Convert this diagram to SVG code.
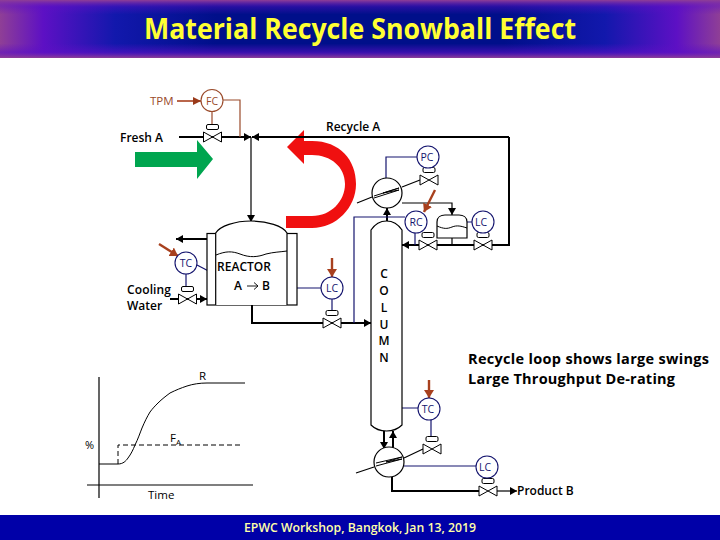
<svg xmlns="http://www.w3.org/2000/svg" width="720" height="540" viewBox="0 0 720 540">
<style>
text{font-family:"Open Sans","Liberation Sans",sans-serif;fill:#000}
.lbl{font-size:11.5px}
.bold{font-size:14.5px;font-weight:700}
.inst{font-size:10.5px;fill:#14146e;text-anchor:middle}
.ctl{fill:#fff;stroke:#14146e;stroke-width:1.1}
.sig{fill:none;stroke:#14146e;stroke-width:1.2}
.fc{fill:#fff;stroke:#9a4a2a;stroke-width:1.1}
.fcs{fill:none;stroke:#9a4a2a;stroke-width:1.2}
.thick{fill:none;stroke:#000;stroke-width:2}
.thin{fill:none;stroke:#000;stroke-width:1.2}
.v{fill:#fff;stroke:#000;stroke-width:1}
.red{fill:none;stroke:#a8401e;stroke-width:2.4;marker-end:url(#rh)}
</style>
<defs>
<marker id="ah" markerUnits="userSpaceOnUse" markerWidth="8" markerHeight="8" refX="7" refY="4" orient="auto"><path d="M0 0L7 4L0 8z" fill="#000"/></marker>
<marker id="rh" markerUnits="userSpaceOnUse" markerWidth="10" markerHeight="10" refX="8" refY="5" orient="auto"><path d="M0 0L8 5L0 10z" fill="#a8401e"/></marker>
<marker id="bh" markerUnits="userSpaceOnUse" markerWidth="10" markerHeight="8" refX="8" refY="4" orient="auto"><path d="M0 0L8 4L0 8z" fill="#9a3a1a"/></marker>
<linearGradient id="hh" x1="0" x2="1" y1="0" y2="0">
<stop offset="0" stop-color="#8f3f96"/><stop offset="0.06" stop-color="#5d10c4"/><stop offset="0.16" stop-color="#1218ac"/><stop offset="0.3" stop-color="#000f8a"/><stop offset="0.7" stop-color="#000f8a"/><stop offset="0.84" stop-color="#1218ac"/><stop offset="0.94" stop-color="#5d10c4"/><stop offset="1" stop-color="#8f3f96"/>
</linearGradient>
<linearGradient id="hv" x1="0" x2="0" y1="0" y2="1">
<stop offset="0" stop-color="#8f3f96"/><stop offset="0.12" stop-color="#5d10c4" stop-opacity="0.4"/><stop offset="0.25" stop-color="#5d10c4" stop-opacity="0"/><stop offset="0.75" stop-color="#5d10c4" stop-opacity="0"/><stop offset="0.9" stop-color="#5d10c4" stop-opacity="0.6"/><stop offset="1" stop-color="#8f3f96"/>
</linearGradient>
<g id="valve"><path class="v" d="M-9 -5L9 5V-5L-9 5z"/></g>
<g id="act"><rect x="-6" y="-2.500" width="12" height="5" rx="1.500" class="v"/></g>
</defs>
<rect width="720" height="540" fill="#fff"/>

<g id="header">
<rect width="720" height="58" fill="url(#hh)"/>
<rect width="720" height="58" fill="url(#hv)"/>
<text x="360" y="38.500" text-anchor="middle" textLength="432" lengthAdjust="spacingAndGlyphs" style="font-size:29px;font-weight:700;fill:#ffff33">Material Recycle Snowball Effect</text>
</g>

<g id="footer">
<rect y="515" width="720" height="25" fill="#0000a8"/>
<text x="360" y="532" text-anchor="middle" textLength="232" lengthAdjust="spacingAndGlyphs" style="font-size:12.500px;font-weight:600;fill:#ffffa8">EPWC Workshop, Bangkok, Jan 13, 2019</text>
</g>

<g id="big-arrows">
<path d="M135 152H197V140L213 159L197 179V167H135z" fill="#00a54f"/>
<path d="M286 228V216H312C331 216 345 201 345 184C345 167 331 155 312 155H304V164L287 147L304 130V141H312C340 141 356 160 356 184C356 208 336 228 312 228z" fill="#f01010"/>
</g>

<g id="connectors">
<path class="thick" d="M179 137H251" marker-end="url(#ah)"/>
<path class="thick" d="M509 137H252" marker-end="url(#ah)"/>
<path class="thin" d="M251 137V222" marker-end="url(#ah)"/>
<path class="thick" d="M509 137V245H402" marker-end="url(#ah)"/>
<path class="thick" d="M207 239H176" marker-end="url(#ah)"/>
<path class="thick" d="M170 299H207" marker-end="url(#ah)"/>
<path class="thick" d="M252 305V323H371" marker-end="url(#ah)"/>
<path class="thick" d="M387 221V208" marker-end="url(#ah)"/>
<path class="thin" d="M402 203H452V215" marker-end="url(#ah)"/>
<path class="thin" d="M452 238V245"/>
<path class="thick" d="M384 431V449" marker-end="url(#ah)"/>
<path class="thick" d="M393 449V431" marker-end="url(#ah)"/>
<path class="thick" d="M392 477V491H480"/>
<path class="thin" d="M497 491H517" marker-end="url(#ah)"/>
<path class="thin" d="M357 203L372 197M402 187L420 180"/>
<path class="thin" d="M356 473L374 467M404 458L423 449"/>
<path class="sig" d="M197 265L220 277"/>
<path class="sig" d="M186 274V288"/>
<path class="sig" d="M279 288H321M332 299V311"/>
<path class="sig" d="M386 178V157H417M428 168V172"/>
<path class="sig" d="M405 217H354V323"/>
<path class="sig" d="M415 233V245"/>
<path class="sig" d="M467 222H472M483 233V238"/>
<path class="sig" d="M402 408H418M431 420V440"/>
<path class="sig" d="M404 466H476M487 478V484"/>
<path class="fcs" d="M212 112V127M223 100H240V137"/>
<path d="M177 101H201" fill="none" stroke="#a8401e" stroke-width="1.600" marker-end="url(#bh)"/>
<path class="red" d="M159 244L178 256"/>
<path class="red" d="M332 258V277"/>
<path class="red" d="M435 190L424 212"/>
<path class="red" d="M429 380V398"/>
</g>

<g id="valves">
<g transform="translate(212.500 137)"><use href="#valve"/><use href="#act" y="-10"/></g>
<g transform="translate(187.500 299)"><use href="#valve"/><use href="#act" y="-10"/></g>
<g transform="translate(332 323)"><use href="#valve"/><use href="#act" y="-10"/></g>
<g transform="translate(429 180)"><use href="#valve"/><use href="#act" y="-10"/></g>
<g transform="translate(428 245)"><use href="#valve"/><use href="#act" y="-10"/></g>
<g transform="translate(483 245)"><use href="#valve"/><use href="#act" y="-10"/></g>
<g transform="translate(432 449)"><use href="#valve"/><use href="#act" y="-10"/></g>
<g transform="translate(488 491)"><use href="#valve"/><use href="#act" y="-10"/></g>
</g>

<g id="reactor">
<rect x="207" y="233.500" width="90" height="71.500" fill="#fff" stroke="#000" stroke-width="1.200"/>
<path d="M215.700 305V233C220 226 235 221 251 221C267 221 283 226 287 233V305" fill="#fff" stroke="#000" stroke-width="1.200"/>
<path d="M216 255C226 251 232 251 240 254C250 258 258 257 266 254C274 252 280 252 287 251" fill="none" stroke="#000" stroke-width="1"/>
<text x="244" y="271" text-anchor="middle" style="font-size:12px;font-weight:600">REACTOR</text>
<text x="234" y="290" style="font-size:12px;font-weight:600">A</text>
<path d="M247 286H258M254 282.500L258 286L254 289.500" fill="none" stroke="#000" stroke-width="0.900"/>
<text x="262" y="290" style="font-size:12px;font-weight:600">B</text>
</g>

<g id="column">
<path d="M371 230C375 224 381 221 386.500 221C392 221 398 224 402 230V425C398 429 392 431 386.500 431C381 431 375 429 371 425z" fill="#fff" stroke="#000" stroke-width="1.200"/>
<g style="font-size:12px;font-weight:600" text-anchor="middle">
<text x="384" y="278">C</text><text x="384" y="295">O</text><text x="384" y="312">L</text><text x="384" y="329">U</text><text x="384" y="345">M</text><text x="384" y="362">N</text>
</g>
</g>

<g id="condenser">
<circle cx="387" cy="193" r="15" fill="#fff" stroke="#000" stroke-width="1.200"/>
<path d="M374 196L399 188L383 193L399 190L374 198" fill="none" stroke="#000" stroke-width="1"/>
</g>
<g id="reboiler">
<circle cx="389" cy="462" r="15" fill="#fff" stroke="#000" stroke-width="1.200"/>
<path d="M376 463L402 457L386 462L402 459L376 466" fill="none" stroke="#000" stroke-width="1"/>
</g>
<g id="drum">
<path d="M437 222C437 217 441 215 445 215H459C463 215 467 217 467 222V238H437z" fill="#fff" stroke="#000" stroke-width="1.200"/>
<path d="M437 226C444 229 447 229 452 227C457 225 461 226 467 228" fill="none" stroke="#000" stroke-width="1"/>
</g>

<g id="FC"><circle cx="212" cy="100.500" r="11" class="fc"/><text x="212" y="104.500" class="inst" style="fill:#9a4a2a">FC</text></g>
<g id="TC1"><circle cx="186" cy="263" r="11" class="ctl"/><text x="186" y="267" class="inst">TC</text></g>
<g id="LC1"><circle cx="332" cy="288" r="11" class="ctl"/><text x="332" y="292" class="inst">LC</text></g>
<g id="PC"><circle cx="428" cy="157" r="11" class="ctl"/><text x="427" y="161" class="inst">PC</text></g>
<g id="RC"><circle cx="416" cy="222" r="11" class="ctl"/><text x="416" y="226" class="inst">RC</text></g>
<g id="LC2"><circle cx="483" cy="222" r="11" class="ctl"/><text x="481" y="226" class="inst">LC</text></g>
<g id="TC2"><circle cx="429" cy="409" r="11" class="ctl"/><text x="428" y="413" class="inst">TC</text></g>
<g id="LC3"><circle cx="487" cy="467" r="11" class="ctl"/><text x="485" y="471" class="inst">LC</text></g>

<g id="labels">
<text x="150" y="105" class="lbl" style="fill:#9a4a2a">TPM</text>
<text x="120" y="142" style="font-size:12px;font-weight:600">Fresh A</text>
<text x="326" y="131" style="font-size:12px;font-weight:600">Recycle A</text>
<text x="127" y="294" style="font-size:12px;font-weight:600" textLength="44">Cooling</text>
<text x="127" y="310" style="font-size:12px;font-weight:600">Water</text>
<text x="517" y="495" style="font-size:12px;font-weight:600">Product B</text>
<text x="468" y="364" class="bold" textLength="241">Recycle loop shows large swings</text>
<text x="468" y="384" class="bold" textLength="207">Large Throughput De-rating</text>
</g>

<g id="chart">
<path class="thin" d="M99 377V498M87 485H253"/>
<path d="M99 464H118C123 464 126 461 128 458C131 454 133 450 135 445C138 439 140 433 142 428C145 421 147 417 150 412C153 408 155 406 158 403C162 399 166 396 170 393C176 390 181 388 187 386C193 384 200 383 207 383H245" fill="none" stroke="#000" stroke-width="1"/>
<path d="M118 464V445H240" fill="none" stroke="#000" stroke-width="1" stroke-dasharray="5 3"/>
<text x="199" y="380" class="lbl">R</text>
<text x="170" y="442" class="lbl">F<tspan dy="3" font-size="8">A</tspan></text>
<text x="85" y="449" style="font-size:11px">%</text>
<text x="148" y="499" class="lbl">Time</text>
</g>
</svg>
